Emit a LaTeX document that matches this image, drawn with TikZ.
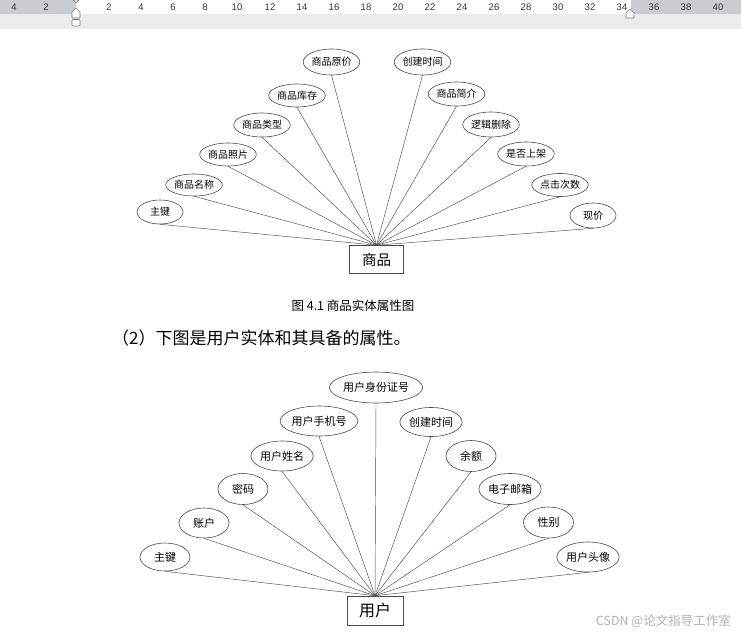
\documentclass[tikz,border=0pt]{standalone}
\usepackage{fontspec}
\setmainfont{Liberation Sans}
\newfontfamily\cjk{Noto Sans CJK SC}
\usetikzlibrary{shapes.geometric}
\definecolor{rulergray}{HTML}{C9CCD1}
\definecolor{rulerlight}{HTML}{E9EBEE}
\definecolor{linegray}{HTML}{4A4A4A}
\definecolor{markgray}{HTML}{7A7A7A}
\begin{document}
\begin{tikzpicture}[x=1pt,y=-1pt,
  attr/.style={ellipse,draw=linegray,line width=0.6pt,minimum width=46pt,minimum height=24pt,inner sep=0pt,font=\cjk\fontsize{10}{10}\selectfont},
  attrb/.style={attr,minimum width=50pt,minimum height=30pt,font=\cjk\fontsize{11}{11}\selectfont},
  entity/.style={draw=linegray,line width=0.6pt,inner sep=0pt},
  link/.style={draw=linegray,line width=0.45pt},
  rnum/.style={font=\fontsize{9.5}{10}\selectfont,text=black!80,inner sep=0pt},
  marker/.style={draw=markgray,fill=white,line width=0.6pt}]
\useasboundingbox (0,0) rectangle (741,632);
\fill[white] (0,0) rectangle (741,632);
% ruler
\fill[rulergray] (0,0) rectangle (741,14);
\fill[white] (76,0) rectangle (631,14);
\fill[rulerlight] (0,14) rectangle (741,29);
\foreach \x/\t in {14/4,46/2,109/2,141/4,173/6,205/8,237/10,270/12,302/14,334/16,366/18,398/20,430/22,462/24,494/26,526/28,558/30,590/32,622/34,654/36,686/38,718/40}
  \node[rnum] (rn\x) at (\x,7) {\t};
\draw[marker] (73,0) -- (79,0) -- (76,3) -- cycle;
\draw[marker] (72,18) -- (72,12) -- (76,8) -- (80,12) -- (80,18) -- cycle;
\draw[marker,rounded corners=1pt] (72,19.5) rectangle (80,26);
\draw[marker] (626,18) -- (626,13) -- (630,9) -- (634,13) -- (634,18) -- cycle;

% diagram 1
\node[entity,minimum width=54pt,minimum height=28pt,font=\cjk\fontsize{14.5}{14.5}\selectfont] (sp) at (376.5,259.5) {商品};
\node[attr] (a1) at (160,212) {主键};
\node[attr,minimum height=22pt] (a2) at (194,185) {商品名称};
\node[attr,minimum height=23pt] (a3) at (228,154.5) {商品照片};
\node[attr] (a4) at (262,125) {商品类型};
\node[attr,minimum height=23pt] (a5) at (297,95.5) {商品库存};
\node[attr,minimum height=26pt] (a6) at (331.5,62) {商品原价};
\node[attr,minimum height=26pt] (b1) at (422.5,62) {创建时间};
\node[attr] (b2) at (456.5,94) {商品简介};
\node[attr,minimum height=25pt] (b3) at (491,124.5) {逻辑删除};
\node[attr] (b4) at (526,154) {是否上架};
\node[attr,minimum height=23pt] (b5) at (560,185) {点击次数};
\node[attr,minimum height=25pt] (b6) at (593,215.5) {现价};
\foreach \n in {a1,a2,a3,a4,a5,a6,b1,b2,b3,b4,b5,b6}
  \draw[link] (\n.south) -- (sp.north);

\node[font=\cjk\fontsize{12.5}{13}\selectfont] (cap) at (353,306) {图 4.1 商品实体属性图};
\node[anchor=west,inner sep=0pt,font=\cjk\fontsize{17}{17}\selectfont] (txt) at (112,338) {（2）下图是用户实体和其具备的属性。};

% diagram 2
\node[entity,minimum width=56pt,minimum height=29pt,font=\cjk\fontsize{16}{16}\selectfont] (yh) at (375,610.5) {用户};
\node[attrb,minimum height=28pt] (c1) at (165,557) {主键};
\node[attrb] (c2) at (204,523) {账户};
\node[attrb,minimum height=31pt] (c3) at (243,489) {密码};
\node[attrb] (c4) at (282,456) {用户姓名};
\node[attrb,minimum width=56pt] (c5) at (319,421) {用户手机号};
\node[attrb,minimum width=66pt,minimum height=31pt] (c6) at (376,387.5) {用户身份证号};
\node[attrb,minimum height=29pt] (d1) at (431,422) {创建时间};
\node[attrb,minimum height=31pt] (d2) at (471,456) {余额};
\node[attrb,minimum height=31pt] (d3) at (510,489) {电子邮箱};
\node[attrb,minimum height=31pt] (d4) at (548.5,522.5) {性别};
\node[attrb] (d5) at (588,557) {用户头像};
\foreach \n in {c1,c2,c3,c4,c5,c6,d1,d2,d3,d4,d5}
  \draw[link] (\n.south) -- (yh.north);

\node[anchor=east,inner sep=0pt,font=\cjk\fontsize{12.5}{12.5}\selectfont,text=black!30] (wm) at (731,621) {CSDN @论文指导工作室};
\end{tikzpicture}
\end{document}
